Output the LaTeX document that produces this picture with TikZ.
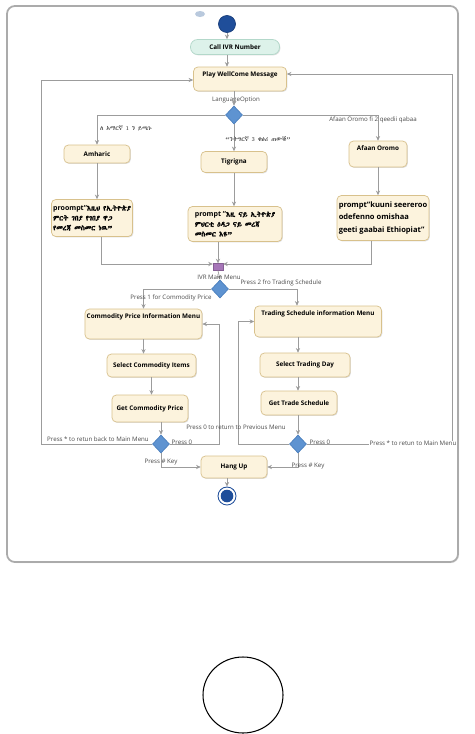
\documentclass[tikz,border=0pt]{standalone}
\usepackage{fontspec}
\setmainfont{Open Sans}
\newfontfamily\ethfont[AutoFakeBold=2]{Abyssinica SIL}
\usetikzlibrary{positioning,calc,shapes.geometric,shadows,arrows.meta}

\definecolor{linegray}{HTML}{9C9C9C}
\definecolor{boxfill}{HTML}{FCF3DD}
\definecolor{boxline}{HTML}{D8C18C}
\definecolor{callfill}{HTML}{DDF2EA}
\definecolor{callline}{HTML}{B3D8CA}
\definecolor{diamfill}{HTML}{5E93D1}
\definecolor{diamline}{HTML}{4C80BE}
\definecolor{startblue}{HTML}{1F4E9A}
\definecolor{barpurple}{HTML}{A676B8}
\definecolor{labelgray}{HTML}{4A4A4A}
\definecolor{framegray}{HTML}{ABABAB}
\definecolor{iconblue}{HTML}{B9C9DD}

\tikzset{
  flow/.style={draw=linegray, line width=0.4pt, -{Stealth[length=2.6pt,width=2.4pt]}},
  actbox/.style={draw=boxline, fill=boxfill, rounded corners=2.5pt, inner sep=1pt,
    font=\fontsize{3.6}{4.4}\selectfont\bfseries, align=center,
    drop shadow={shadow xshift=0.5pt, shadow yshift=-0.5pt, opacity=0.25}},
  toptext/.style={inner ysep=2.5pt, text height=2.7pt, text depth=#1},
  wh/.style 2 args={minimum width=#1*0.02cm, minimum height=#2*0.02cm},
  choice/.style={diamond, draw=diamline, fill=diamfill, inner sep=0pt, wh={17}{18}},
  elabel/.style={font=\fontsize{3.5}{4.2}\selectfont, text=labelgray, inner sep=0.5pt},
}

\begin{document}
\begin{tikzpicture}[x=0.02cm, y=-0.02cm]
  \useasboundingbox (0,0) rectangle (474,734);

  % outer frame
  \draw[framegray, fill=white, line width=1pt, rounded corners=4.5pt,
    drop shadow={shadow xshift=0.6pt, shadow yshift=-0.6pt, opacity=0.2}]
    (7,6) rectangle (458,562);
  \fill[iconblue] (200,14) ellipse (5 and 3);

  % start and first actions
  \node (start) [circle, fill=startblue, draw=startblue!80!black, inner sep=0pt, wh={17}{17}] at (227,24) {};
  \node (call) [actbox, draw=callline, fill=callfill, rounded corners=4pt, wh={89}{15}] at (235,47) {Call IVR Number};
  \node (play) [actbox, toptext=5.9pt, wh={93}{24}] at (240,79) {Play WellCome Message};

  \draw[flow] (start) -- (start |- call.north);
  \draw[flow] (call.south -| start) -- (start |- play.north);

  % language choice
  \node (langlbl) [elabel] at (236,100) {LanguageOption};
  \node (dlang) [choice] at (234,115) {};
  \draw[flow] (dlang.north |- play.south) -- (dlang.north);

  \node (amh) [actbox, wh={66}{18}] at (97,154) {Amharic};
  \node (tig) [actbox, wh={66}{21}] at (234,162) {Tigrigna};
  \node (oro) [actbox, toptext=7pt, wh={58}{26}] at (378,154) {Afaan Oromo};

  \draw[flow] (dlang.west) -| (amh.north);
  \draw[flow] (dlang.south) -- (dlang.south |- tig.north);
  \draw[flow] (dlang.east) -| (oro.north);

  \node (amhlbl) [elabel, anchor=west] at (99,128) {\ethfont ለ አማርኛ 1 ን ይጫኑ};
  \node (tiglbl) [elabel] at (258,139) {\ethfont “ንትግርኛ 3 ቁፅሪ ጠውቑ”};
  \node (orolbl) [elabel] at (373,120) {Afaan Oromo fi 2 qeedii qabaa};

  % prompts
  \node (pamh) [actbox, font=\fontsize{4}{5.6}\selectfont\bfseries, align=left, wh={77}{37}] at (92,218)
    {proompt“\ethfont እዚህ የኢትዮጵያ\\\ethfont ምርት ገበያ የገበያ ዋጋ\\\ethfont የመረጃ መስመር ነዉ”};
  \node (ptig) [actbox, font=\fontsize{4}{5.6}\selectfont\bfseries, align=left, wh={94}{35}] at (235,224)
    {prompt “\ethfont እዚ ናይ ኢትዮጵያ\\\ethfont ምህርቲ ዕዳጋ ናይ መረጃ\\\ethfont መስመር እዩ”};
  \node (poro) [actbox, font=\fontsize{4.3}{7}\selectfont\bfseries, align=left, wh={92}{45}] at (383,218)
    {prompt“kuuni seereroo\\odefenno omishaa\\geeti gaabai Ethiopiat”};

  \draw[flow] (amh.south) -- (amh.south |- pamh.north);
  \draw[flow] (tig.south) -- (tig.south |- ptig.north);
  \draw[flow] (oro.south) -- (oro.south |- poro.north);

  % join bar
  \node (bar) [fill=barpurple, draw=barpurple!80!black, line width=0.2pt, inner sep=0pt, wh={10}{7}] at (218,267) {};
  \draw[flow] ($(pamh.south)+(9,0)$) |- ($(bar.west)+(0,-3)$);
  \draw[flow] ($(poro.south)+(-12,0)$) |- ($(bar.east)+(0,-3)$);
  \draw[flow] (ptig.south -| bar.north) -- (bar.north);

  % main menu choice
  \node (dmenu) [choice] at (220,289) {};
  \draw[flow] (bar.south) -- (dmenu.north);
  \node (menulbl) [elabel] at (219,277) {IVR Main Menu};

  \node (cpim) [actbox, toptext=9.3pt, wh={115}{30}] at (143.5,324) {Commodity Price Information Menu};
  \node (tsim) [actbox, toptext=9.9pt, wh={127}{31}] at (318,321.5) {Trading Schedule information Menu};

  \draw[flow] (dmenu.west) -| (cpim.north);
  \draw[flow] (dmenu.east) -| ($(tsim.north)+(-21,0)$);
  \node (p1lbl) [elabel] at (171,298) {Press 1 for Commodity Price};
  \node (p2lbl) [elabel] at (281,283) {Press 2 fro Trading Schedule};

  % commodity branch
  \node (sci) [actbox, wh={89}{23}] at (151.5,365.5) {Select Commodity Items};
  \node (gcp) [actbox, wh={76}{27}] at (150,408.5) {Get Commodity Price};
  \node (dl) [choice] at (161,444) {};

  \draw[flow] (cpim.south) -- (cpim.south |- sci.north);
  \draw[flow] (sci.south) -- (sci.south |- gcp.north);
  \draw[flow] (dl.north |- gcp.south) -- (dl.north);

  % trading branch
  \node (std) [actbox, wh={90}{24}] at (305,365) {Select Trading Day};
  \node (gts) [actbox, wh={76}{24}] at (299,403) {Get Trade Schedule};
  \node (dr) [choice] at (298,444) {};

  \draw[flow] (dr.north |- tsim.south) -- (dr.north |- std.north);
  \draw[flow] (dr.north |- std.south) -- (dr.north |- gts.north);
  \draw[flow] (dr.north |- gts.south) -- (dr.north);

  % hang up and end
  \node (hang) [actbox, wh={66}{22}] at (234,467) {Hang Up};
  \node (endn) [circle, draw=startblue, line width=0.5pt, fill=white, inner sep=0pt, wh={18}{18}] at (227,496) {};
  \fill[startblue] (endn.center) circle (6.3);
  \draw[flow] (endn.north |- hang.south) -- (endn.north);

  % return and exit paths
  \draw[flow] (dl.east) -| ($(cpim.east)+(17,0)$) -- (cpim.east);
  \draw[flow] (dl.west) -| ($(play.west)+(-152,1)$) -- ($(play.west)+(0,1)$);
  \draw[flow] (dl.south) |- (hang.west);
  \draw[flow] (dr.west) -| ($(tsim.west)+(-16,0)$) -- (tsim.west);
  \draw[flow] (dr.east) -| ($(play.east)+(165,-5)$) -- ($(play.east)+(0,-5)$);
  \draw[flow] (dr.south) |- (hang.east);

  \node (l0lbl) [elabel] at (182,442) {Press 0};
  \node (lstarlbl) [elabel] at (98,439) {Press * to retun back to Main Menu};
  \node (lhashlbl) [elabel] at (161,462) {Press \# Key};
  \node (prevlbl) [elabel] at (236,427) {Press 0 to return to Previous Menu};
  \node (r0lbl) [elabel] at (320,442) {Press 0};
  \node (rstarlbl) [elabel, fill=white, inner sep=0.3pt] at (413,443.5) {Press * to retun to Main Menu};
  \node (rhashlbl) [elabel] at (308,466) {Press \# Key};

  % circle below the frame
  \draw[black, line width=0.6pt] (243,695) ellipse (40 and 38);
\end{tikzpicture}
\end{document}
